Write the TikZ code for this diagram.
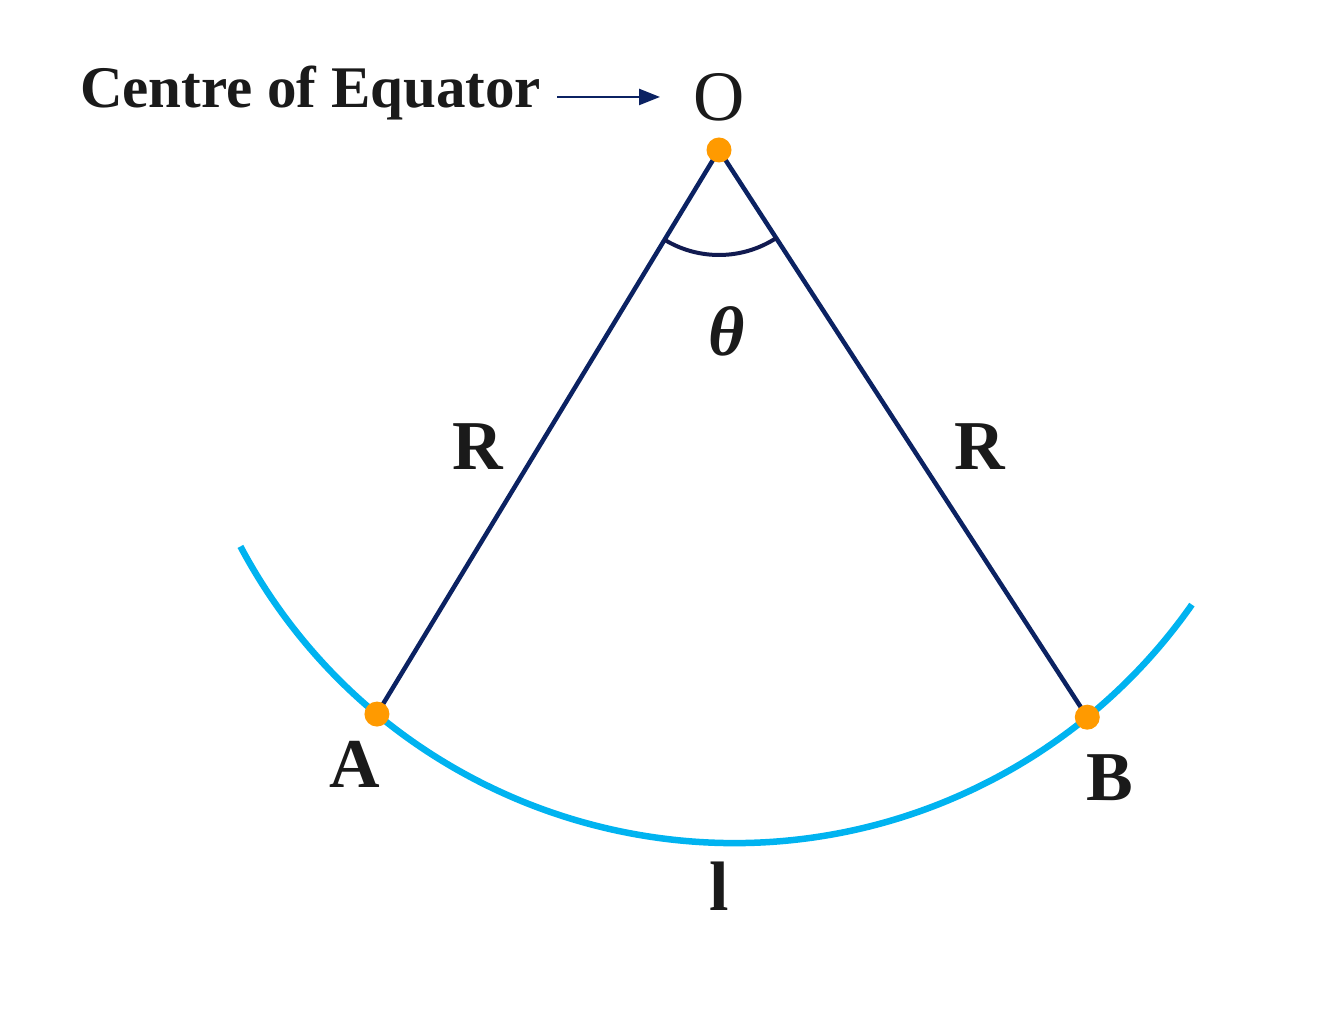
\documentclass[tikz,border=0pt]{standalone}
\usepackage{fontspec}
\setmainfont{Liberation Serif}
\usetikzlibrary{arrows.meta,calc}
\definecolor{navy}{HTML}{0B2262}
\definecolor{anglec}{HTML}{111A50}
\definecolor{cyanarc}{HTML}{00B3F0}
\definecolor{dotor}{HTML}{FF9A00}
\definecolor{txt}{HTML}{1A1A1A}
\tikzset{
  rline/.style={draw=navy,line width=4.5pt},
  equator/.style={draw=cyanarc,line width=6.5pt},
  dotpt/.style={circle,fill=dotor,inner sep=0pt,minimum size=25pt},
  biglbl/.style={text=txt,font=\fontsize{70}{80}\selectfont\bfseries,inner sep=0pt},
}
\begin{document}
\begin{tikzpicture}[x=1pt,y=1pt]
\useasboundingbox (0,0) rectangle (1330,1010);
% equator arc
\coordinate (C) at (734,726);
\draw[equator] ($(C)+(208:559)$) arc[start angle=208,end angle=325,radius=559];
\coordinate (Ap) at ($(C)+(230.3:559)$);
\coordinate (Bp) at ($(C)+(309.2:559)$);
\coordinate (Op) at (719,860);
% radii
\draw[rline] (Op) -- (Ap);
\draw[rline] (Op) -- (Bp);
% angle arc
\draw[draw=anglec,line width=4pt] ($(Op)+(238.8:105)$) arc[start angle=238.8,end angle=303.1,radius=105];
% dots
\node[dotpt] (O) at (Op) {};
\node[dotpt] (A) at (Ap) {};
\node[dotpt] (B) at (Bp) {};
% labels
\node[text=txt,font=\fontsize{71}{80}\selectfont,inner sep=0pt] (Olbl) at (719,913) {O};
\node[anchor=base west,text=txt,font=\fontsize{59}{70}\selectfont\bfseries,inner sep=0pt] (cen) at (80,902) {Centre of Equator};
\coordinate (arrs) at (557,913);
\draw[navy,line width=2.5pt,-{Triangle[length=21pt,width=16pt]}] (arrs) -- (Olbl.west -| 660,913);
\node[text=txt,font=\fontsize{70}{80}\selectfont\bfseries\itshape,inner sep=0pt] (th) at (727,679) {θ};
\node[biglbl] (R1) at (478,563) {R};
\node[biglbl] (R2) at (980,563) {R};
\node[biglbl] (Albl) at (355,246) {A};
\node[biglbl] (Blbl) at (1110,232) {B};
\node[biglbl] (l) at (719,124) {l};
\end{tikzpicture}
\end{document}
